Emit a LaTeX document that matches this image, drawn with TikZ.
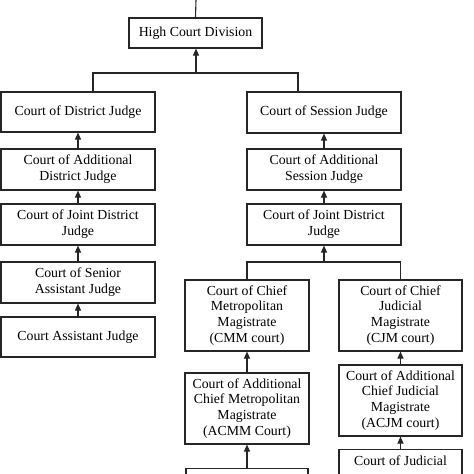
\documentclass[tikz,border=0pt]{standalone}
\usepackage{fontspec}
\setmainfont{Liberation Serif}
\usetikzlibrary{arrows.meta}
\tikzset{
  box/.style={draw=black!85, line width=1.1pt, align=center, inner sep=0pt,
    font=\fontsize{13.8}{15.8}\selectfont},
  arr/.style={-{Triangle[width=6pt,length=7pt]}, line width=1.1pt, draw=black!85},
  ln/.style={line width=1.1pt, draw=black!85}
}
\begin{document}
\begin{tikzpicture}[x=1pt,y=-1pt]
\clip (0,0) rectangle (474,474);
% top
\node[box, minimum width=133pt, minimum height=30pt] (hcd) at (195.5,33) {High Court Division};
% left column
\node[box, minimum width=154pt, minimum height=40pt] (l1) at (78,112) {Court of District Judge};
\node[box, minimum width=154pt, minimum height=41pt] (l2) at (78,169.5) {Court of Additional\\District Judge};
\node[box, minimum width=154pt, minimum height=41pt] (l3) at (78,224.5) {Court of Joint District\\Judge};
\node[box, minimum width=154pt, minimum height=41pt] (l4) at (78,282.5) {Court of Senior\\Assistant Judge};
\node[box, minimum width=154pt, minimum height=40pt] (l5) at (78,337) {Court Assistant Judge};
% right column
\node[box, minimum width=154pt, minimum height=41pt] (r1) at (324,112.5) {Court of Session Judge};
\node[box, minimum width=154pt, minimum height=41pt] (r2) at (324,169.5) {Court of Additional\\Session Judge};
\node[box, minimum width=154pt, minimum height=41pt] (r3) at (324,224.5) {Court of Joint District\\Judge};
% magistrates
\node[box, minimum width=124pt, minimum height=71pt] (cmm) at (247,315.5) {Court of Chief\\Metropolitan\\Magistrate\\(CMM court)};
\node[box, minimum width=123pt, minimum height=71pt] (cjm) at (400.5,315.5) {Court of Chief\\Judicial\\Magistrate\\(CJM court)};
\node[box, minimum width=124pt, minimum height=71pt] (acmm) at (247,408.5) {Court of Additional\\Chief Metropolitan\\Magistrate\\(ACMM Court)};
\node[box, minimum width=123pt, minimum height=71pt] (acjm) at (400.5,400.5) {Court of Additional\\Chief Judicial\\Magistrate\\(ACJM court)};
\node[box, minimum width=123pt, minimum height=60pt, anchor=north] (jud) at (400.5,449) {};
\node[font=\fontsize{13.8}{15.8}\selectfont, inner sep=0pt] (judt) at (400.5,461) {Court of Judicial};
\node[box, minimum width=122pt, minimum height=40pt, anchor=north] (bl) at (247,468) {};
% connectors
\coordinate (top) at (196,0);
\draw[ln] (top) -- (hcd.north);
\coordinate (jl) at (93,73);
\coordinate (jr) at (298,73);
\coordinate (jc) at (196,73);
\draw[ln] (jl |- l1.north) -- (jl) -- (jr) -- (jr |- r1.north);
\draw[arr] (jc) -- (jc |- hcd.south);
\draw[arr] (l2.north) -- (l1.south);
\draw[arr] (l3.north) -- (l2.south);
\draw[arr] (l4.north) -- (l3.south);
\draw[arr] (l5.north) -- (l4.south);
\draw[arr] (r2.north) -- (r1.south);
\draw[arr] (r3.north) -- (r2.south);
\coordinate (jm) at (324,262);
\draw[ln] (cmm.north) -- (cmm.north |- jm) -- (cjm.north |- jm) -- (cjm.north);
\draw[arr] (jm) -- (r3.south);
\draw[arr] (acmm.north) -- (cmm.south);
\draw[arr] (acjm.north) -- (cjm.south);
\draw[arr] (jud.north) -- (acjm.south);
\draw[arr] (bl.north) -- (acmm.south);
\end{tikzpicture}
\end{document}
